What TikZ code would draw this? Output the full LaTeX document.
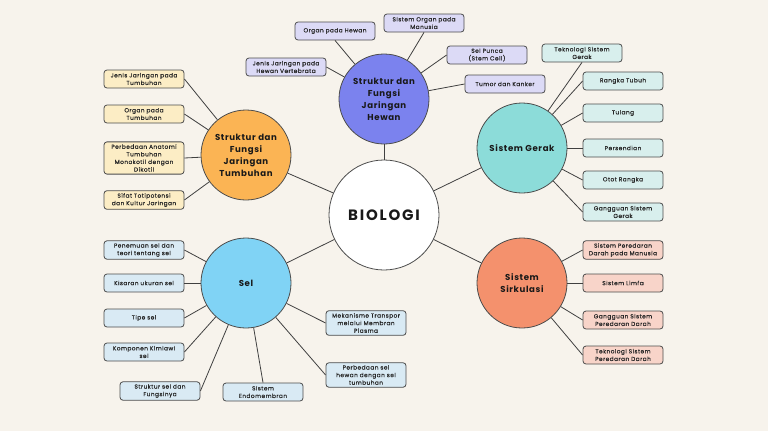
\documentclass[tikz,border=0pt]{standalone}
\usepackage{fontspec}
\setmainfont{Poppins}
\setsansfont{Poppins}
\newfontfamily\leaffont[LetterSpace=8, FakeBold=0.35]{Poppins}
\newfontfamily\topicfont[LetterSpace=7]{Poppins}
\newfontfamily\rootfont[LetterSpace=12]{Poppins}
\definecolor{bgcream}{HTML}{F7F3EC}
\definecolor{hewanC}{HTML}{7B82EE}
\definecolor{hewanL}{HTML}{DCDAF6}
\definecolor{tumbuhC}{HTML}{FBB454}
\definecolor{tumbuhL}{HTML}{FCEDC5}
\definecolor{gerakC}{HTML}{8CDCD9}
\definecolor{gerakL}{HTML}{D8EFED}
\definecolor{selC}{HTML}{80D3F5}
\definecolor{selL}{HTML}{D9EAF4}
\definecolor{sirkC}{HTML}{F4916D}
\definecolor{sirkL}{HTML}{F8D4C9}

\begin{document}
\begin{tikzpicture}[
  x=1pt, y=-1pt,
  font=\leaffont,
  topic/.style={circle, draw=black!70, line width=0.8pt, minimum size=90pt, inner sep=0pt, align=center,
                font=\topicfont\bfseries\fontsize{8.6}{12}\selectfont, text=black!90},
  leaf/.style={draw=black!70, line width=0.8pt, rounded corners=3pt, align=center,
               text width=78pt, minimum height=18pt, inner xsep=1pt, inner ysep=2.5pt,
               font=\leaffont\fontsize{5.8}{7.6}\selectfont, text=black!85},
  edge/.style={draw=black!75, line width=0.8pt}
]
\useasboundingbox[fill=bgcream] (0,0) rectangle (768,431);

% pusat
\node[topic, fill=white, minimum size=110pt, font=\rootfont\bfseries\fontsize{15}{17}\selectfont, text=black!90] (bio) at (384,215) {BIOLOGI};

% lima cabang utama
\node[topic, fill=hewanC] (hewan) at (384,99) {Struktur dan\\Fungsi\\Jaringan\\Hewan};
\node[topic, fill=tumbuhC] (tumbuh) at (246,155) {Struktur dan\\Fungsi\\Jaringan\\Tumbuhan};
\node[topic, fill=gerakC] (gerak) at (522,148) {Sistem Gerak};
\node[topic, fill=selC] (sel) at (246,283) {Sel};
\node[topic, fill=sirkC] (sirk) at (522,283) {Sistem\\Sirkulasi};

\draw[edge] (bio) -- (hewan);
\draw[edge] (bio) -- (tumbuh);
\draw[edge] (bio) -- (gerak);
\draw[edge] (bio) -- (sel);
\draw[edge] (bio) -- (sirk);

% jaringan hewan
\node[leaf, fill=hewanL] (hw1) at (335,31) {Organ pada Hewan};
\node[leaf, fill=hewanL] (hw2) at (424,23) {Sistem Organ pada\\Manusia};
\node[leaf, fill=hewanL] (hw3) at (286,67) {Jenis Jaringan pada\\Hewan Vertebrata};
\node[leaf, fill=hewanL] (hw4) at (487,55) {Sel Punca\\(Stem Cell)};
\node[leaf, fill=hewanL] (hw5) at (505,84) {Tumor dan Kanker};
\draw[edge] (hw1.south) -- (hewan);
\draw[edge] (hw2.south) -- (hewan);
\draw[edge] (hw3.east) -- (hewan);
\draw[edge] (hw4.west) -- (hewan);
\draw[edge] (hw5.west) -- (hewan);

% jaringan tumbuhan
\node[leaf, fill=tumbuhL] (tb1) at (144,79) {Jenis Jaringan pada\\Tumbuhan};
\node[leaf, fill=tumbuhL] (tb2) at (144,114) {Organ pada\\Tumbuhan};
\node[leaf, fill=tumbuhL] (tb3) at (144,158) {Perbedaan Anatomi\\Tumbuhan\\Monokotil dengan\\Dikotil};
\node[leaf, fill=tumbuhL] (tb4) at (144,200) {Sifat Totipotensi\\dan Kultur Jaringan};
\foreach \n in {tb1,tb2,tb3,tb4}
  \draw[edge] (\n.east) -- (tumbuh);

% sistem gerak
\node[leaf, fill=gerakL] (gr1) at (582,53) {Teknologi Sistem\\Gerak};
\node[leaf, fill=gerakL] (gr2) at (623,81) {Rangka Tubuh};
\node[leaf, fill=gerakL] (gr3) at (623,113) {Tulang};
\node[leaf, fill=gerakL] (gr4) at (623,148) {Persendian};
\node[leaf, fill=gerakL] (gr5) at (623,180) {Otot Rangka};
\node[leaf, fill=gerakL] (gr6) at (623,212) {Gangguan Sistem\\Gerak};
\draw[edge] (gr1.south) -- (gerak);
\foreach \n in {gr2,gr3,gr4,gr5,gr6}
  \draw[edge] (\n.west) -- (gerak);

% sel
\node[leaf, fill=selL] (sl1) at (144,250) {Penemuan sel dan\\teori tentang sel};
\node[leaf, fill=selL] (sl2) at (144,283) {Kisaran ukuran sel};
\node[leaf, fill=selL] (sl3) at (144,318) {Tipe sel};
\node[leaf, fill=selL] (sl4) at (144,352) {Komponen Kimiawi\\sel};
\node[leaf, fill=selL] (sl5) at (160,391) {Struktur sel dan\\Fungsinya};
\node[leaf, fill=selL] (sl6) at (263,392) {Sistem\\Endomembran};
\node[leaf, fill=selL] (sl7) at (366,323) {Mekanisme Transpor\\melalui Membran\\Plasma};
\node[leaf, fill=selL] (sl8) at (366,375) {Perbedaan sel\\hewan dengan sel\\tumbuhan};
\foreach \n in {sl1,sl2,sl3,sl4,sl5}
  \draw[edge] (\n.east) -- (sel);
\draw[edge] (sl6.north) -- (sel);
\draw[edge] (sl7.west) -- (sel);
\draw[edge] (sl8.west) -- (sel);

% sistem sirkulasi
\node[leaf, fill=sirkL] (sk1) at (623,250) {Sistem Peredaran\\Darah pada Manusia};
\node[leaf, fill=sirkL] (sk2) at (623,283) {Sistem Limfa};
\node[leaf, fill=sirkL] (sk3) at (623,320) {Gangguan Sistem\\Peredaran Darah};
\node[leaf, fill=sirkL] (sk4) at (623,355) {Teknologi Sistem\\Peredaran Darah};
\foreach \n in {sk1,sk2,sk3,sk4}
  \draw[edge] (\n.west) -- (sirk);
\end{tikzpicture}
\end{document}
